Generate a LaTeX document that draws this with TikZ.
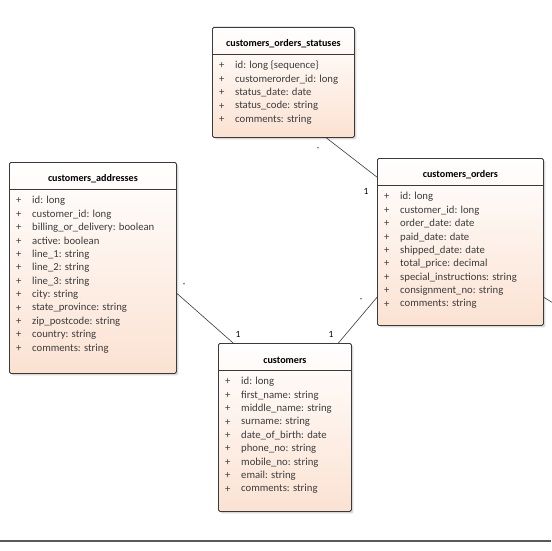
\documentclass[tikz,border=0pt]{standalone}
\usepackage{fontspec}
\setmainfont{Carlito}
\usetikzlibrary{shadows,calc}
\definecolor{peach}{HTML}{FBE2D2}
\definecolor{edge}{HTML}{3A3A3A}
\definecolor{txt}{HTML}{3C3C3C}
\tikzset{
 entity/.style={draw=edge, line width=0.8pt, rounded corners=1.5pt, top color=white, bottom color=peach, anchor=north west, inner sep=0pt,
   drop shadow={shadow xshift=2pt, shadow yshift=-2pt, fill=black!15, opacity=1}},
 etitle/.style={font=\bfseries\fontsize{10.1}{12}\selectfont, text=black, inner sep=0pt},
 erow/.style={font=\fontsize{10.7}{12}\selectfont, text=txt, anchor=west, inner sep=0pt},
 conn/.style={draw=edge, line width=0.6pt},
 mult/.style={font=\fontsize{9.5}{11}\selectfont, text=black, inner sep=0pt},
 star/.style={font=\fontsize{6}{7}\selectfont, text=black, inner sep=0pt},
}
\newcommand{\entity}[7]{%
 \node[entity, minimum width=#4pt, minimum height=#5pt] (#1) at (#2,#3) {};
 \draw[draw=edge, line width=0.8pt] ([yshift=-27pt]#1.north west) -- ([yshift=-27pt]#1.north east);
 \node[etitle] (#1-t) at ([yshift=-17pt]#1.north) {#6};
 \foreach \r [count=\i] in {#7} {
   \node[erow] (#1-p\i) at ([xshift=7pt,yshift={-39pt-(\i-1)*13.4pt}]#1.north west) {+};
   \node[erow] (#1-r\i) at ([xshift=23pt,yshift={-39pt-(\i-1)*13.4pt}]#1.north west) {\r};
 }
}
\begin{document}
\begin{tikzpicture}[x=1pt,y=-1pt]
\useasboundingbox[fill=white] (0,0) rectangle (551,551);

\entity{sts}{212}{27}{142}{110}{customers\_orders\_statuses}{id: long \{sequence\},customerorder\_id: long,status\_date: date,status\_code: string,comments: string}
\entity{ord}{377}{158}{166}{167}{customers\_orders}{id: long,customer\_id: long,order\_date: date,paid\_date: date,shipped\_date: date,total\_price: decimal,special\_instructions: string,consignment\_no: string,comments: string}
\entity{adr}{9}{162}{167}{211}{customers\_addresses}{id: long,customer\_id: long,billing\_or\_delivery: boolean,active: boolean,line\_1: string,line\_2: string,line\_3: string,city: string,state\_province: string,zip\_postcode: string,country: string,comments: string}
\entity{cus}{218}{343}{133}{168}{customers}{id: long,first\_name: string,middle\_name: string,surname: string,date\_of\_birth: date,phone\_no: string,mobile\_no: string,email: string,comments: string}

% connectors
\coordinate (a1) at ($(sts.south west)!0.80!(sts.south east)$);
\coordinate (b1) at ($(ord.north west)!0.114!(ord.south west)$);
\draw[conn] (a1) -- (b1);
\coordinate (a2) at ($(adr.north east)!0.62!(adr.south east)$);
\coordinate (b2) at ($(cus.north west)!0.113!(cus.north east)$);
\draw[conn] (a2) -- (b2);
\coordinate (a3) at ($(ord.north west)!0.83!(ord.south west)$);
\coordinate (b3) at ($(cus.north west)!0.90!(cus.north east)$);
\draw[conn] (a3) -- (b3);
\coordinate (a4) at ($(ord.north east)!0.83!(ord.south east)$);
\coordinate (b4) at (566,311);
\draw[conn] (a4) -- (b4);

% multiplicities
\node[star] (m1) at (318,149) {*};
\node[mult] (m2) at (366,191) {1};
\node[star] (m3) at (184,285) {*};
\node[mult] (m4) at (238,334) {1};
\node[star] (m5) at (361,300) {*};
\node[mult] (m6) at (331,334) {1};

% bottom rule
\coordinate (bl) at (0,541);
\coordinate (br) at (551,541);
\draw[draw=black!65, line width=1.5pt] (bl) -- (br);
\end{tikzpicture}
\end{document}
